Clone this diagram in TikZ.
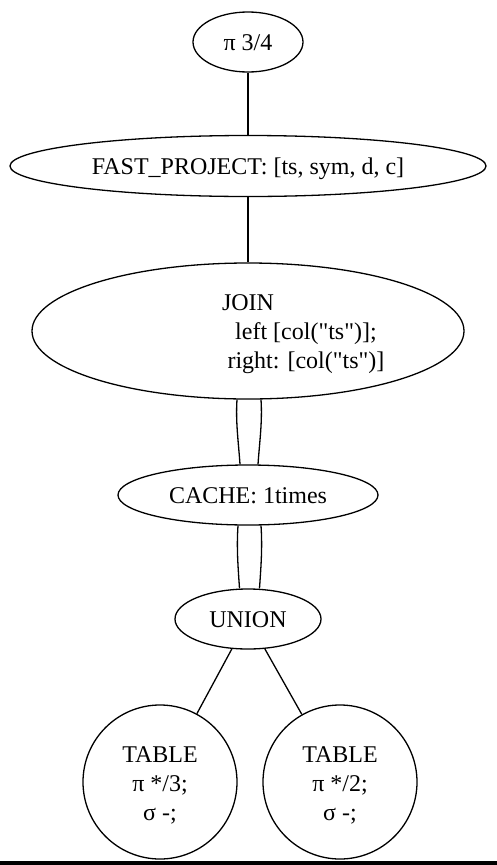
\documentclass[tikz,border=0pt]{standalone}
\usepackage{fontspec}
\setmainfont{Liberation Serif}[Ligatures=TeXOff]
\usetikzlibrary{shapes.geometric}
\newcommand{\topstrut}{\rule{0pt}{23pt}}
\begin{document}
\begin{tikzpicture}[x=1pt,y=-1pt,
  every node/.style={font=\fontsize{24}{29}\selectfont, inner sep=0pt, line width=1.3pt},
  ell/.style={draw, ellipse, align=center},
  oneline/.style={text height=16.5pt, text depth=0pt},
  circ/.style={draw, circle, align=center, minimum size=154pt},
  edge/.style={line width=1.3pt}]
\useasboundingbox (0,0) rectangle (497,865);
\fill[white] (0,0) rectangle (497,865);
\node[ell, oneline, minimum width=110pt, minimum height=60pt] (pi) at (248,42) {π 3/4};
\node[ell, oneline, minimum width=476pt, minimum height=61pt] (fast) at (248,166) {FAST\_PROJECT: [ts, sym, d, c]};
\node[ell, minimum width=432pt, minimum height=136pt] (join) at (248,331)
  {\topstrut JOIN\\\hspace*{116pt}left [col("ts")];\\\hspace*{116pt}right: [col("ts")]};
\node[ell, oneline, minimum width=260pt, minimum height=60pt] (cache) at (248,495) {CACHE: 1times};
\node[ell, oneline, minimum width=146pt, minimum height=60pt] (union) at (248,619) {UNION};
\node[circ] (t1) at (160,782) {\topstrut TABLE\\π */3;\\σ -;};
\node[circ] (t2) at (340,782) {\topstrut TABLE\\π */2;\\σ -;};
\draw[edge] (pi) -- (fast);
\draw[edge] (fast) -- (join);
\draw[edge] ([xshift=-11pt]join.south) .. controls +(-1.5,22) and +(-1.5,-22) .. ([xshift=-8pt]cache.north);
\draw[edge] ([xshift=13pt]join.south) .. controls +(1.5,22) and +(1.5,-22) .. ([xshift=10pt]cache.north);
\draw[edge] ([xshift=-10pt]cache.south) .. controls +(-1.5,22) and +(-1.5,-22) .. ([xshift=-8.5pt]union.north);
\draw[edge] ([xshift=13pt]cache.south) .. controls +(1.5,22) and +(1.5,-22) .. ([xshift=11.5pt]union.north);
\draw[edge] (union) -- (t1);
\draw[edge] (union) -- (t2);
\fill[black] (0,861) rectangle (497,865);
\end{tikzpicture}
\end{document}
